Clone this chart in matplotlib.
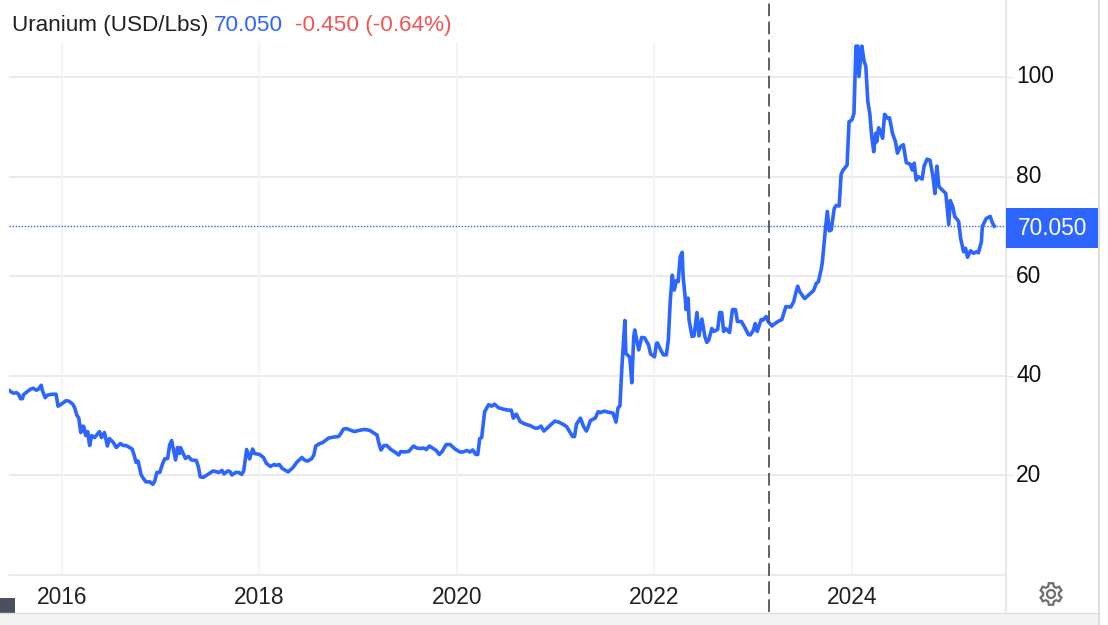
import numpy as np
import matplotlib
matplotlib.use('Agg')
import matplotlib.pyplot as plt
from matplotlib.patches import Rectangle

plt.rcParams['font.family'] = ['Liberation Sans', 'DejaVu Sans']

# Values: decimal year and price
years = [
    2015.47, 2015.49, 2015.51, 2015.54, 2015.56, 2015.58, 2015.60, 2015.61, 2015.64, 2015.68,
    2015.71, 2015.74, 2015.76, 2015.79, 2015.80, 2015.83, 2015.85, 2015.90, 2015.94, 2015.96,
    2016.00, 2016.04, 2016.07, 2016.11, 2016.13, 2016.15, 2016.17, 2016.19, 2016.21, 2016.22,
    2016.24, 2016.26, 2016.28, 2016.30, 2016.33, 2016.38, 2016.40, 2016.43, 2016.46, 2016.48,
    2016.52, 2016.55, 2016.59, 2016.62, 2016.65, 2016.71, 2016.73, 2016.75, 2016.77, 2016.80,
    2016.82, 2016.85, 2016.89, 2016.92, 2016.94, 2016.96, 2016.99, 2017.02, 2017.04, 2017.07,
    2017.09, 2017.11, 2017.13, 2017.15, 2017.17, 2017.19, 2017.20, 2017.25, 2017.28, 2017.31,
    2017.36, 2017.38, 2017.40, 2017.43, 2017.47, 2017.50, 2017.53, 2017.57, 2017.59, 2017.62,
    2017.64, 2017.68, 2017.70, 2017.72, 2017.76, 2017.79, 2017.82, 2017.84, 2017.87, 2017.90,
    2017.93, 2017.95, 2018.00, 2018.04, 2018.07, 2018.11, 2018.15, 2018.17, 2018.20, 2018.23,
    2018.29, 2018.34, 2018.38, 2018.43, 2018.46, 2018.49, 2018.53, 2018.55, 2018.57, 2018.60,
    2018.64, 2018.70, 2018.75, 2018.80, 2018.82, 2018.85, 2018.88, 2018.92, 2018.96, 2019.00,
    2019.05, 2019.08, 2019.12, 2019.15, 2019.19, 2019.21, 2019.23, 2019.26, 2019.29, 2019.33,
    2019.37, 2019.41, 2019.43, 2019.46, 2019.51, 2019.56, 2019.59, 2019.63, 2019.66, 2019.69,
    2019.72, 2019.76, 2019.79, 2019.82, 2019.85, 2019.89, 2019.93, 2019.98, 2020.03, 2020.06,
    2020.10, 2020.13, 2020.16, 2020.19, 2020.21, 2020.23, 2020.25, 2020.28, 2020.32, 2020.35,
    2020.38, 2020.42, 2020.47, 2020.52, 2020.55, 2020.57, 2020.60, 2020.64, 2020.69, 2020.74,
    2020.79, 2020.82, 2020.85, 2020.88, 2020.93, 2020.99, 2021.03, 2021.07, 2021.11, 2021.14,
    2021.17, 2021.19, 2021.21, 2021.25, 2021.28, 2021.31, 2021.33, 2021.35, 2021.40, 2021.43,
    2021.45, 2021.49, 2021.53, 2021.58, 2021.61, 2021.63, 2021.65, 2021.67, 2021.70, 2021.71,
    2021.75, 2021.77, 2021.79, 2021.80, 2021.84, 2021.87, 2021.90, 2021.94, 2021.96, 2022.00,
    2022.02, 2022.03, 2022.06, 2022.09, 2022.12, 2022.14, 2022.16, 2022.18, 2022.20, 2022.22,
    2022.24, 2022.26, 2022.28, 2022.29, 2022.31, 2022.32, 2022.34, 2022.35, 2022.38, 2022.40,
    2022.43, 2022.45, 2022.48, 2022.51, 2022.53, 2022.55, 2022.58, 2022.60, 2022.64, 2022.66,
    2022.68, 2022.70, 2022.72, 2022.76, 2022.79, 2022.82, 2022.84, 2022.88, 2022.92, 2022.95,
    2022.97, 2023.00, 2023.02, 2023.04, 2023.08, 2023.10, 2023.13, 2023.15, 2023.19, 2023.20,
    2023.25, 2023.29, 2023.33, 2023.38, 2023.41, 2023.43, 2023.45, 2023.47, 2023.52, 2023.56,
    2023.61, 2023.64, 2023.66, 2023.69, 2023.70, 2023.73, 2023.75, 2023.77, 2023.79, 2023.82,
    2023.84, 2023.87, 2023.89, 2023.91, 2023.95, 2023.97, 2024.00, 2024.02, 2024.04, 2024.06,
    2024.07, 2024.10, 2024.12, 2024.14, 2024.16, 2024.18, 2024.20, 2024.22, 2024.24, 2024.25,
    2024.27, 2024.29, 2024.31, 2024.33, 2024.36, 2024.38, 2024.41, 2024.44, 2024.46, 2024.49,
    2024.52, 2024.55, 2024.59, 2024.61, 2024.63, 2024.65, 2024.67, 2024.71, 2024.73, 2024.76,
    2024.79, 2024.82, 2024.84, 2024.86, 2024.88, 2024.92, 2024.95, 2024.98, 2024.995, 2025.02,
    2025.04, 2025.08, 2025.10, 2025.13, 2025.15, 2025.17, 2025.20, 2025.23, 2025.26, 2025.28,
    2025.31, 2025.32, 2025.36, 2025.40, 2025.42, 2025.44,
]
prices = [
    37.0, 36.7, 36.5, 36.6, 36.3, 35.4, 35.4, 36.2, 36.7, 37.3,
    37.5, 37.1, 37.3, 38.1, 37.1, 35.6, 36.1, 36.3, 36.3, 33.9,
    34.4, 35.0, 34.9, 34.3, 33.5, 32.1, 31.5, 28.6, 29.9, 29.8,
    28.0, 28.8, 26.0, 28.0, 27.6, 28.8, 27.6, 28.6, 25.9, 27.4,
    26.6, 25.6, 26.4, 26.0, 26.0, 25.3, 24.1, 22.6, 22.9, 20.2,
    19.5, 18.7, 18.7, 18.2, 18.9, 20.6, 20.6, 22.4, 23.3, 23.4,
    26.1, 27.0, 25.1, 23.1, 25.6, 24.4, 25.6, 23.4, 23.8, 23.1,
    23.0, 21.8, 19.7, 19.6, 20.1, 20.5, 20.9, 20.7, 20.6, 21.0,
    20.3, 20.9, 20.8, 20.1, 20.6, 20.6, 20.2, 20.9, 25.2, 23.3,
    25.3, 24.4, 24.2, 23.6, 22.4, 21.8, 22.2, 22.0, 22.2, 21.4,
    20.7, 21.6, 22.7, 23.6, 23.0, 22.9, 23.4, 24.1, 25.9, 26.3,
    26.6, 27.5, 27.7, 27.8, 28.3, 29.3, 29.4, 29.1, 28.8, 29.0,
    29.2, 29.2, 29.0, 28.6, 28.1, 26.4, 25.1, 26.0, 26.0, 25.2,
    24.7, 24.1, 24.8, 24.7, 24.8, 25.9, 25.5, 25.4, 25.5, 25.2,
    25.9, 25.4, 25.0, 24.2, 24.8, 26.2, 26.2, 25.3, 24.7, 24.7,
    25.0, 24.7, 25.1, 24.2, 24.2, 27.4, 27.6, 32.8, 34.2, 33.9,
    34.3, 33.6, 33.3, 33.1, 33.1, 31.5, 32.3, 30.8, 30.3, 30.0,
    29.5, 29.5, 29.9, 28.9, 29.8, 30.9, 30.7, 30.3, 29.8, 28.8,
    27.8, 27.8, 30.3, 31.5, 29.9, 28.9, 29.8, 31.0, 31.5, 32.8,
    32.6, 32.9, 32.7, 32.5, 30.7, 33.5, 34.0, 41.8, 51.1, 44.5,
    43.7, 38.6, 47.9, 49.2, 45.2, 47.7, 47.6, 46.2, 44.4, 43.8,
    46.5, 46.6, 45.3, 44.2, 44.2, 47.2, 55.2, 60.2, 57.2, 59.1,
    58.9, 63.9, 64.8, 59.9, 55.9, 53.3, 55.6, 51.2, 47.9, 48.0,
    52.7, 48.0, 51.4, 47.9, 46.7, 47.2, 49.5, 48.9, 49.3, 52.7,
    52.7, 48.9, 49.5, 48.7, 53.3, 53.3, 50.9, 50.9, 49.5, 48.3,
    48.2, 49.1, 50.5, 48.9, 51.3, 51.2, 51.9, 50.9, 50.0, 50.2,
    50.9, 51.3, 53.9, 53.8, 54.9, 56.6, 58.0, 56.9, 55.5, 56.2,
    57.1, 58.6, 58.9, 61.6, 62.9, 69.3, 73.0, 69.1, 69.3, 73.6,
    74.2, 74.1, 80.5, 81.3, 82.3, 91.0, 91.4, 92.7, 106.2, 106.2,
    100.1, 106.2, 103.4, 102.1, 95.1, 92.7, 88.0, 85.0, 88.7, 87.0,
    89.8, 89.0, 87.7, 92.5, 91.7, 91.8, 88.7, 87.0, 84.7, 86.0,
    86.4, 82.8, 82.5, 81.3, 82.7, 79.3, 80.0, 79.5, 82.1, 83.5,
    83.3, 80.0, 76.6, 82.1, 78.0, 77.2, 76.6, 70.4, 75.2, 74.0,
    72.0, 71.0, 67.6, 64.9, 65.6, 63.8, 65.1, 64.6, 64.9, 64.7,
    66.9, 70.0, 71.6, 72.0, 70.8, 70.05,
]
x_ticks = [2016, 2018, 2020, 2022, 2024]
y_ticks = [20, 40, 60, 80, 100]
last_value = 70.05
change = -0.45
change_pct = -0.64
divider_year = 2023.16

BLUE = '#2d65ff'
RED = '#f25555'
GRID_H = '#e8e8e8'
GRID_V = '#f0f4f9'

W, H = 1108, 625
fig = plt.figure(figsize=(W / 100, H / 100), dpi=100)

# Pixel layer for the page furniture
page = fig.add_axes([0, 0, 1, 1], zorder=0)
page.set_xlim(0, W)
page.set_ylim(H, 0)
page.axis('off')
page.add_patch(Rectangle((0, 613), 1098, 12, color='#f3f3f3', lw=0))
page.plot([0, 1098], [613, 613], color='#dedede', lw=1)
page.add_patch(Rectangle((0, 598), 15, 15, color='#4b5060', lw=0))
page.plot([1005.5, 1005.5], [0, 612], color=GRID_H, lw=1.5)
page.plot([1098.5, 1098.5], [0, 625], color='#d8d8d8', lw=1.2)

# Gear icon
n = 6
angles, radii = [], []
for i in range(n):
    a = 2 * np.pi * i / n - np.pi / 2
    angles += [a - 0.36, a - 0.2, a + 0.2, a + 0.36]
    radii += [8.0, 11.0, 11.0, 8.0]
gx = 1051 + np.array(radii) * np.cos(angles)
gy = 594 + np.array(radii) * np.sin(angles)
page.fill(gx, gy, facecolor='none', edgecolor='#6f6f6f', lw=1.6)
page.add_patch(plt.Circle((1051, 594), 4, facecolor='none', edgecolor='#6f6f6f', lw=1.6))

# Main chart
left, right, top, bottom = 9, 1005, 42, 575
ax = fig.add_axes([left / W, 1 - bottom / H, (right - left) / W, (bottom - top) / H], zorder=1)
ax.patch.set_alpha(0)
ax.set_xlim(2016 - 53 / 98.75, 2016 + 943 / 98.75)
ax.set_ylim(0, (bottom - top) / 4.98)

for t in y_ticks:
    ax.axhline(t, color=GRID_H, lw=1.3, zorder=1)
for t in x_ticks:
    ax.axvline(t, color=GRID_V, lw=1.3, zorder=1)
ax.axhline(last_value, color=BLUE, lw=1, ls=(0, (1, 1.2)), zorder=2)
ax.plot(years, prices, color=BLUE, lw=2.6, solid_joinstyle='round', zorder=3)

# Divider runs past the plot area to the bottom strip
ax.plot([divider_year, divider_year], [-0.07, 1.08], transform=ax.get_xaxis_transform(),
        color='#555555', lw=1.3, ls=(0, (7, 3)), clip_on=False, zorder=4)

for s in ['top', 'left', 'right']:
    ax.spines[s].set_visible(False)
ax.spines['bottom'].set_color(GRID_H)
ax.spines['bottom'].set_linewidth(1.3)

ax.set_xticks(x_ticks)
ax.set_xticklabels([str(t) for t in x_ticks], fontsize=16.4, color='#222222')
ax.tick_params(axis='x', length=0, pad=8)
ax.yaxis.tick_right()
ax.set_yticks(y_ticks)
ax.set_yticklabels([str(t) for t in y_ticks], fontsize=16.4, color='#111111')
ax.tick_params(axis='y', length=6, width=1, color=GRID_H, pad=2)
for lab in ax.get_yticklabels():
    lab.set_verticalalignment('center')

# Last value tag
trans = ax.get_yaxis_transform()
ax.add_patch(Rectangle((1.001, last_value - 4.3), 0.0925, 7.85, transform=trans,
                       facecolor=BLUE, lw=0, clip_on=False, zorder=5))
ax.text(1.0125, last_value - 0.4, f'{last_value:.3f}', transform=trans, color='white',
        fontsize=16.4, va='center', ha='left', zorder=6)

# Header
header = [('Uranium (USD/Lbs)', '#222222', 12), (f'{last_value:.3f}', BLUE, 214),
          (f'{change:.3f} ({change_pct:.2f}%)', RED, 295)]
for label, col, px in header:
    page.text(px, 25.5, label, color=col, fontsize=16.2, va='center', ha='left')

fig.savefig('out.png', dpi=100)
